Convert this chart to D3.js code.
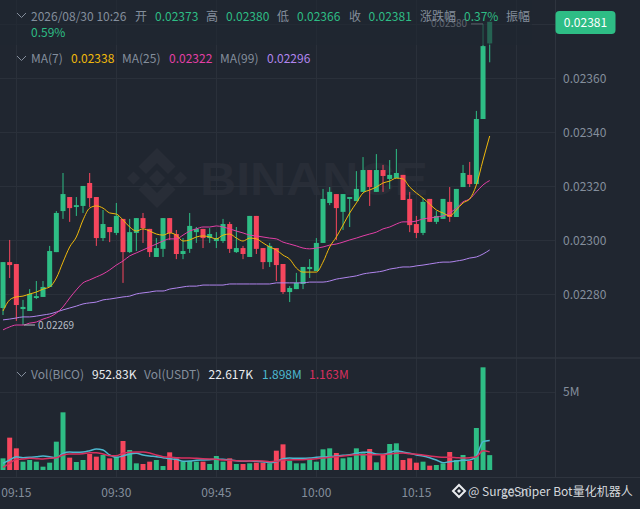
<!DOCTYPE html>
<html>
<head>
<meta charset="utf-8">
<script src="https://cdn.jsdelivr.net/npm/d3@7"></script>
<style>
	html, body { margin: 0; padding: 0; background: #202630; overflow: hidden; }
	text { font-family: "Noto Sans CJK SC", "Noto Sans", sans-serif; font-size: 12px; }
	.domain { display: none; }
	.tick line { display: none; }
</style>
</head>
<body>
<svg width="640" height="509"></svg>
<script>
// prices are in millionths, 23810 = 0.02381. first candle is 09:13, one per minute
var opens = [22750,22920,22913,22746,22739,22787,22791,22828,22957,23109,23161,23124,23128,23213,23161,23009,23050,23028,23080,22957,23028,23083,23043,22939,22969,23083,23024,22950,22969,23031,23043,23009,22998,22998,23061,22957,22972,22939,23091,22972,22920,22972,22913,22809,22820,22839,22894,22887,22991,23139,23172,23106,23154,23146,23180,23261,23180,23261,23228,23231,23243,23154,23061,23028,23154,23069,23080,23143,23087,23198,23243,23209,23450,23730];
var highs = [22920,23002,22913,22780,22820,22850,22850,22980,23109,23250,23161,23161,23202,23250,23161,23113,23050,23139,23080,23080,23083,23102,23043,23009,23083,23083,23039,23009,23102,23050,23043,23046,23031,23080,23069,23050,22980,23091,23091,22972,22991,22972,22913,22831,22880,22902,22931,23009,23191,23198,23172,23172,23161,23257,23309,23261,23320,23280,23298,23339,23243,23180,23091,23157,23154,23109,23154,23198,23191,23280,23291,23480,23802,23810];
var lows = [22724,22861,22702,22687,22739,22783,22791,22828,22957,23080,23069,23091,23102,23124,22980,22998,22994,23020,22843,22954,22961,22991,22939,22939,22939,23002,22931,22931,22954,22991,22972,22991,22972,22991,22954,22954,22931,22939,22950,22894,22902,22850,22802,22772,22820,22820,22861,22887,22991,23131,23002,23039,23050,23146,23180,23128,23180,23180,23191,23231,23150,23031,23009,23020,23069,23061,23080,23069,23087,23198,23198,23209,23450,23660];
var closes = [22920,22909,22761,22754,22802,22794,22828,22961,23102,23172,23120,23131,23202,23157,23009,23061,23031,23091,22957,23031,23083,23046,22957,22972,23083,23028,22950,22961,23054,23043,23009,23024,23009,23061,22969,22972,22950,23091,22969,22920,22980,22909,22809,22824,22843,22902,22902,22991,23154,23180,23120,23172,23161,23191,23261,23198,23261,23239,23243,23250,23150,23057,23028,23143,23069,23091,23154,23087,23191,23250,23209,23450,23720,23810];

var ma7 = [22739,22780,22791,22794,22802,22809,22820,22828,22861,22920,22976,23013,23076,23120,23128,23120,23102,23098,23076,23050,23035,23043,23035,23024,23020,23028,23020,22998,23002,23013,23017,23013,23006,23020,23024,23009,22998,23009,23006,22991,22976,22965,22946,22931,22898,22883,22883,22883,22920,22976,23013,23057,23102,23139,23176,23187,23198,23213,23220,23231,23228,23198,23176,23157,23135,23113,23102,23091,23113,23139,23154,23206,23298,23387];
var ma25 = [22669,22680,22687,22687,22694,22698,22709,22717,22731,22754,22787,22817,22843,22854,22865,22876,22891,22909,22924,22943,22954,22965,22976,22987,22998,23006,23006,23020,23035,23043,23050,23050,23054,23050,23043,23035,23028,23020,23017,23013,23009,23006,22994,22987,22980,22972,22969,22972,22976,22983,22987,22994,23002,23009,23017,23024,23031,23043,23050,23061,23069,23069,23072,23080,23083,23087,23091,23102,23120,23143,23154,23180,23206,23222];
var ma99 = [22706,22709,22713,22717,22717,22720,22724,22728,22735,22743,22750,22757,22765,22769,22772,22780,22783,22787,22791,22794,22802,22806,22809,22813,22813,22820,22824,22828,22831,22831,22835,22835,22835,22835,22839,22839,22839,22839,22839,22839,22839,22843,22843,22843,22843,22843,22846,22846,22846,22850,22857,22861,22865,22869,22876,22880,22883,22887,22894,22898,22902,22902,22906,22909,22913,22917,22920,22920,22924,22928,22935,22939,22950,22965];

// volumes in thousands
var volumes = [748,2073,1389,534,641,534,214,470,1816,3697,791,513,641,1026,855,962,748,855,1859,1282,427,385,534,641,256,1133,748,534,577,534,534,385,898,534,748,385,385,427,470,470,427,1239,1645,577,427,427,641,534,1325,1389,1090,748,812,1389,1069,1346,492,962,1667,1710,641,748,470,534,278,321,427,1154,641,962,577,2693,6582,953];
var volMaFast = [427,641,855,791,812,855,898,855,769,1069,1154,1133,1154,1239,1346,1282,962,812,898,1026,1069,962,898,855,791,727,684,556,577,620,641,662,684,684,641,598,556,577,556,534,470,534,727,769,748,748,769,812,833,855,898,940,983,1069,1133,1133,1026,1004,1111,1239,1154,1069,962,898,791,641,470,534,577,620,641,898,1816,1898];
var volMaSlow = [171,427,684,705,748,727,705,748,791,962,1026,1026,1047,1111,1111,1026,919,919,1069,1133,1154,1154,1090,962,855,812,791,769,769,748,727,705,684,641,620,598,577,577,598,577,534,556,641,641,662,662,684,727,769,812,855,898,940,983,983,983,983,983,1026,1069,1090,1047,1004,962,898,855,812,812,791,769,791,855,1239,1163];

var priceTicks = [22800,23000,23200,23400,23600];
var priceGrid = [22800,23000,23200,23400,23600,23800];
var timeTicks = [2,17,32,47,62,77];
var timeLabels = ["09:15","09:30","09:45","10:00","10:15","10:30"];
var volumeTicks = [5000];

var GREEN = "#2ebd85";
var RED = "#f6465d";
var GRAY = "#848e9c";
var GRID = "#2a303a";
var WATERMARK = "#282d37";

var svg = d3.select("svg");
var chartRight = 555;
var paneBottom = 477;

var x = d3.scaleLinear().domain([0, 73]).range([3, 489.7]);
var y = d3.scaleLinear().domain([22800, 23600]).range([294.5, 78.5]);
var yVol = d3.scaleLinear().domain([0, 5000]).range([470, 392]);

// watermark first so everything sits on top of it
var mark = svg.append("g").attr("fill", WATERMARK);
var logo = mark.append("g").attr("transform", "translate(157,178)");
logo.selectAll("path")
	.data([
		"M0,-8L8,0L0,8L-8,0Z",
		"M-23.5,-6.5L-17,0L-23.5,6.5L-30,0Z",
		"M23.5,-6.5L30,0L23.5,6.5L17,0Z",
		"M0,-30L18.5,-11.5L11,-4L0,-15L-11,-4L-18.5,-11.5Z",
		"M0,30L18.5,11.5L11,4L0,15L-11,4L-18.5,11.5Z"
	])
	.enter().append("path")
	.attr("d", function(d) { return d; });
mark.append("text")
	.attr("x", 200).attr("y", 195)
	.attr("textLength", 228).attr("lengthAdjust", "spacingAndGlyphs")
	.style("font-size", "46px").style("font-weight", "700")
	.style("font-family", "'Liberation Sans', sans-serif")
	.text("BINANCE");

// grid
var grid = svg.append("g").attr("stroke", GRID).attr("stroke-width", 1);
grid.selectAll(".h").data(priceGrid).enter().append("line")
	.attr("x1", 0).attr("x2", chartRight)
	.attr("y1", function(d) { return y(d); }).attr("y2", function(d) { return y(d); });
grid.selectAll(".v").data(timeTicks).enter().append("line")
	.attr("x1", function(d) { return Math.round(x(d)) + 0.5; }).attr("x2", function(d) { return Math.round(x(d)) + 0.5; })
	.attr("y1", 0).attr("y2", paneBottom);
grid.selectAll(".vh").data(volumeTicks).enter().append("line")
	.attr("x1", 0).attr("x2", chartRight)
	.attr("y1", function(d) { return yVol(d) + 0.5; }).attr("y2", function(d) { return yVol(d) + 0.5; });

// pane borders
var borders = svg.append("g").attr("stroke", "#2e343e").attr("stroke-width", 1);
borders.append("line").attr("x1", 0).attr("x2", 640).attr("y1", 358).attr("y2", 358).attr("stroke-width", 1.5);
borders.append("line").attr("x1", 0).attr("x2", 640).attr("y1", paneBottom + 0.5).attr("y2", paneBottom + 0.5);
borders.append("line").attr("x1", chartRight + 0.5).attr("x2", chartRight + 0.5).attr("y1", 0).attr("y2", paneBottom);

// candles
function isUp(i) { return closes[i] >= opens[i]; }
var candle = svg.append("g").selectAll("g").data(d3.range(opens.length)).enter().append("g")
	.attr("fill", function(i) { return isUp(i) ? GREEN : RED; });
candle.append("rect")
	.attr("x", function(i) { return x(i) - 0.5; })
	.attr("width", 1)
	.attr("y", function(i) { return y(highs[i]); })
	.attr("height", function(i) { return y(lows[i]) - y(highs[i]); });
candle.append("rect")
	.attr("x", function(i) { return x(i) - 2.5; })
	.attr("width", 5)
	.attr("y", function(i) { return y(Math.max(opens[i], closes[i])); })
	.attr("height", function(i) { return Math.max(1, Math.abs(y(opens[i]) - y(closes[i]))); });

// moving averages
function drawLine(values, scale, color, width) {
	var line = d3.line()
		.x(function(d, i) { return x(i); })
		.y(function(d) { return scale(d); })
		.curve(d3.curveMonotoneX);
	svg.append("path")
		.attr("d", line(values))
		.attr("fill", "none")
		.attr("stroke", color)
		.attr("stroke-width", width);
}
drawLine(ma99, y, "#b185ee", 1);
drawLine(ma25, y, "#e33fa6", 1);
drawLine(ma7, y, "#f0b90b", 1);

// volume
svg.append("g").selectAll("rect").data(volumes).enter().append("rect")
	.attr("x", function(d, i) { return x(i) - 2.5; })
	.attr("width", 5)
	.attr("y", function(d) { return yVol(d); })
	.attr("height", function(d) { return yVol(0) - yVol(d); })
	.attr("fill", function(d, i) { return isUp(i) ? GREEN : RED; });
drawLine(volMaFast, yVol, "#4db8cf", 1.5);
drawLine(volMaSlow, yVol, "#d8305f", 1.5);

// high and low markers
function extremeLabel(text, lx, ly, x1, x2, anchor) {
	svg.append("line").attr("x1", x1).attr("x2", x2).attr("y1", ly).attr("y2", ly).attr("stroke", "#b7bdc6");
	svg.append("text").attr("x", lx).attr("y", ly + 3.5).attr("text-anchor", anchor)
		.attr("fill", "#b7bdc6").style("font-size", "10px").text(text);
}
extremeLabel((d3.min(lows) / 1e6).toFixed(5), 38, y(d3.min(lows)), 24, 35, "start");
extremeLabel((d3.max(highs.slice(0, 73)) / 1e6).toFixed(5), 467, y(d3.max(highs.slice(0, 73))), 471, 483, "end");

// the legend sits on a see through panel, dims whatever is behind it
svg.append("rect").attr("x", 0).attr("y", 0).attr("width", 532).attr("height", 45)
	.attr("fill", "#202630").attr("opacity", 0.6);

// axes
var yAxis = d3.axisRight(y).tickValues(priceTicks).tickSize(0).tickPadding(0)
	.tickFormat(function(d) { return (d / 1e6).toFixed(5); });
var yAxisG = svg.append("g").attr("transform", "translate(563,0)").call(yAxis);
var volAxis = d3.axisRight(yVol).tickValues(volumeTicks).tickSize(0).tickPadding(0)
	.tickFormat(function(d) { return (d / 1000) + "M"; });
var volAxisG = svg.append("g").attr("transform", "translate(563,0)").call(volAxis);
var xAxis = d3.axisBottom(x).tickValues(timeTicks).tickSize(0).tickPadding(0).offset(0)
	.tickFormat(function(d, i) { return timeLabels[i]; });
var xAxisG = svg.append("g").attr("transform", "translate(0,488)").call(xAxis);
[yAxisG, volAxisG, xAxisG].forEach(function(g) {
	g.attr("font-family", null).attr("font-size", null);
	g.selectAll("text").attr("fill", GRAY);
});

// current price tag
svg.append("rect").attr("x", 555.5).attr("y", 11).attr("width", 60).attr("height", 23).attr("rx", 4).attr("fill", GREEN);
svg.append("text").attr("x", 585.5).attr("y", 26.5).attr("text-anchor", "middle").attr("fill", "#fff")
	.text((closes[closes.length - 1] / 1e6).toFixed(5));

function label(text, lx, ly, color) {
	svg.append("text").attr("x", lx).attr("y", ly).attr("fill", color).text(text);
}
function chevron(cy) {
	svg.append("path")
		.attr("d", "M17," + (cy - 2) + "L21.5," + (cy + 2.5) + "L26," + (cy - 2))
		.attr("fill", "none").attr("stroke", GRAY).attr("stroke-width", 1);
}

chevron(15);
label("2026/08/30 10:26", 31, 21, GRAY);
label("开", 135, 21, GRAY);
label("0.02373", 155, 21, GREEN);
label("高", 206, 21, GRAY);
label("0.02380", 226, 21, GREEN);
label("低", 277, 21, GRAY);
label("0.02366", 297, 21, GREEN);
label("收", 349, 21, GRAY);
label("0.02381", 368.5, 21, GREEN);
label("涨跌幅", 420, 21, GRAY);
label("0.37%", 464, 21, GREEN);
label("振幅", 506, 21, GRAY);
label("0.59%", 31, 37, GREEN);

chevron(58);
label("MA(7)", 31, 63, GRAY);
label("0.02338", 71, 63, "#f0b90b");
label("MA(25)", 122, 63, GRAY);
label("0.02322", 169, 63, "#e33fa6");
label("MA(99)", 220, 63, GRAY);
label("0.02296", 267, 63, "#b185ee");

chevron(374);
label("Vol(BICO)", 31, 379, GRAY);
label("952.83K", 92, 379, "#eaecef");
label("Vol(USDT)", 144, 379, GRAY);
label("22.617K", 208.5, 379, "#eaecef");
label("1.898M", 262, 379, "#4db8cf");
label("1.163M", 309, 379, "#d8305f");

// attribution
svg.append("path").attr("d", "M459,485L465,491L459,497L453,491Z").attr("fill", "none").attr("stroke", "#eaecef").attr("stroke-width", 2);
svg.append("path").attr("d", "M459,489L461,491L459,493L457,491Z").attr("fill", "#eaecef");
label("@ SurgeSniper Bot量化机器人", 468, 496, "#d5d8dc");
</script>
</body>
</html>
